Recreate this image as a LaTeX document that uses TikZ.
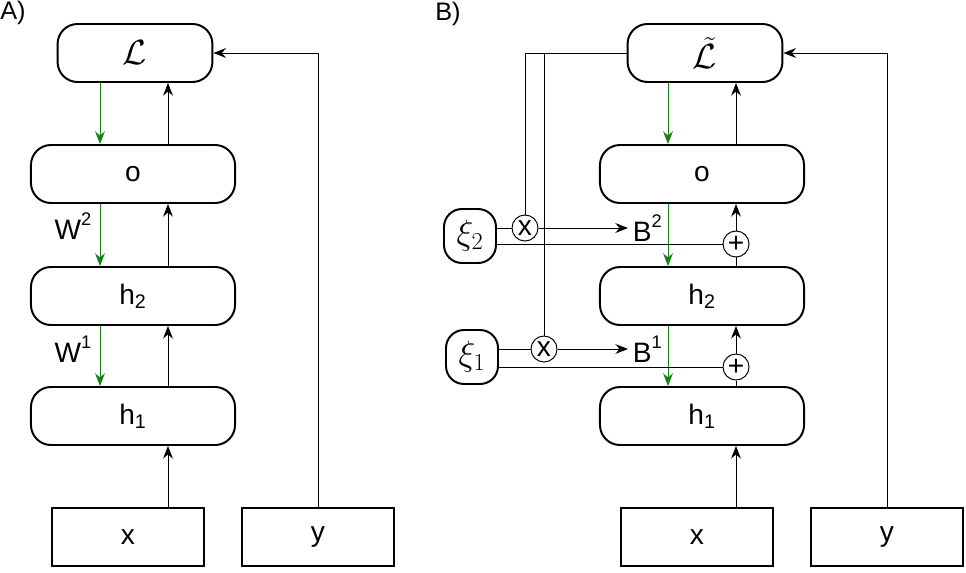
\documentclass[tikz,border=0pt]{standalone}
\usepackage{amsmath}
\usepackage{amssymb}
\usepackage{fontspec}
\setmainfont{Liberation Sans}
\usetikzlibrary{arrows.meta}
\definecolor{fbgreen}{RGB}{24,128,24}
\newcommand{\supnum}[1]{\raisebox{0.5em}{\fontsize{13}{14}\selectfont #1}}

\begin{document}
\begin{tikzpicture}[x=0.025cm, y=-0.025cm,
   font=\fontsize{20}{24}\selectfont,
   layer/.style={draw, line width=1.4pt, rounded corners=0.5cm, minimum width=5.1cm, minimum height=1.45cm},
   loss/.style={layer, minimum width=3.87cm, font=\fontsize{27}{30}\selectfont},
   inp/.style={draw, line width=1.4pt, minimum width=3.78cm, minimum height=1.47cm},
   noise/.style={draw, line width=1.4pt, rounded corners=0.45cm, minimum width=1.3cm, minimum height=1.35cm, inner sep=0pt, font=\fontsize{26}{28}\selectfont},
   op/.style={draw, circle, line width=0.7pt, minimum size=0.65cm, inner sep=0pt},
   wire/.style={line width=0.7pt},
   fwd/.style={wire, -{Stealth[length=9pt, width=7pt, inset=3pt]}},
   bwd/.style={fwd, draw=fbgreen}]
   \useasboundingbox (0,0) rectangle (966,572);

   % A)
   \node (labA) at (13,13) {\fontsize{18}{20}\selectfont A)};
   \node[loss] (LA) at (135,53) {$\mathcal{L}$};
   \node[layer] (oA) at (133,174) {o};
   \node[layer] (h2A) at (133,296) {h\textsubscript{2}};
   \node[layer] (h1A) at (133,416) {h\textsubscript{1}};
   \node[inp] (xA) at (128,537) {x};
   \node[inp] (yA) at (318,537) {y};
   \node (W2) at (73,226) {W\supnum{2}};
   \node (W1) at (73,349) {W\supnum{1}};
   \coordinate (gA) at (100,0);
   \coordinate (fA) at (168,0);

   \draw[bwd] (LA.south -| gA) -- (oA.north -| gA);
   \draw[bwd] (oA.south -| gA) -- (h2A.north -| gA);
   \draw[bwd] (h2A.south -| gA) -- (h1A.north -| gA);
   \draw[fwd] (xA.north -| fA) -- (h1A.south -| fA);
   \draw[fwd] (h1A.north -| fA) -- (h2A.south -| fA);
   \draw[fwd] (h2A.north -| fA) -- (oA.south -| fA);
   \draw[fwd] (oA.north -| fA) -- (LA.south -| fA);
   \draw[fwd] (yA.north) |- (LA.east);

   % B)
   \node (labB) at (448,14) {\fontsize{18}{20}\selectfont B)};
   \node[loss] (LB) at (705,53) {$\tilde{\mathcal{L}}$};
   \node[layer] (oB) at (702,174) {o};
   \node[layer] (h2B) at (702,296) {h\textsubscript{2}};
   \node[layer] (h1B) at (702,416) {h\textsubscript{1}};
   \node[inp] (xB) at (697,537) {x};
   \node[inp] (yB) at (887,537) {y};
   \node[noise] (n2) at (470,236) {$\xi_2$};
   \node[noise] (n1) at (472,357) {$\xi_1$};
   \node[op] (m2) at (525,228) {x};
   \node[op] (m1) at (544,349) {x};
   \node[op] (a2) at (736,244) {+};
   \node[op] (a1) at (736,367) {+};
   \node[anchor=west] (B2) at (628,228) {B\supnum{2}};
   \node[anchor=west] (B1) at (628,349) {B\supnum{1}};
   \coordinate (gB) at (668,0);
   \coordinate (fB) at (736,0);

   \draw[bwd] (LB.south -| gB) -- (oB.north -| gB);
   \draw[bwd] (oB.south -| gB) -- (h2B.north -| gB);
   \draw[bwd] (h2B.south -| gB) -- (h1B.north -| gB);
   \draw[fwd] (xB.north -| fB) -- (h1B.south -| fB);
   \draw[wire] (h1B.north -| fB) -- (a1);
   \draw[fwd] (a1) -- (h2B.south -| fB);
   \draw[wire] (h2B.north -| fB) -- (a2);
   \draw[fwd] (a2) -- (oB.south -| fB);
   \draw[fwd] (oB.north -| fB) -- (LB.south -| fB);
   \draw[fwd] (yB.north) |- (LB.east);

   \draw[wire] (LB.west) -| (m2);
   \draw[wire] (LB.west) -| (m1);
   \draw[wire] (n2.east |- m2) -- (m2);
   \draw[fwd] (m2) -- (B2.west);
   \draw[wire] (n2.east |- a2) -- (a2);
   \draw[wire] (n1.east |- m1) -- (m1);
   \draw[fwd] (m1) -- (B1.west);
   \draw[wire] (n1.east |- a1) -- (a1);
\end{tikzpicture}
\end{document}
